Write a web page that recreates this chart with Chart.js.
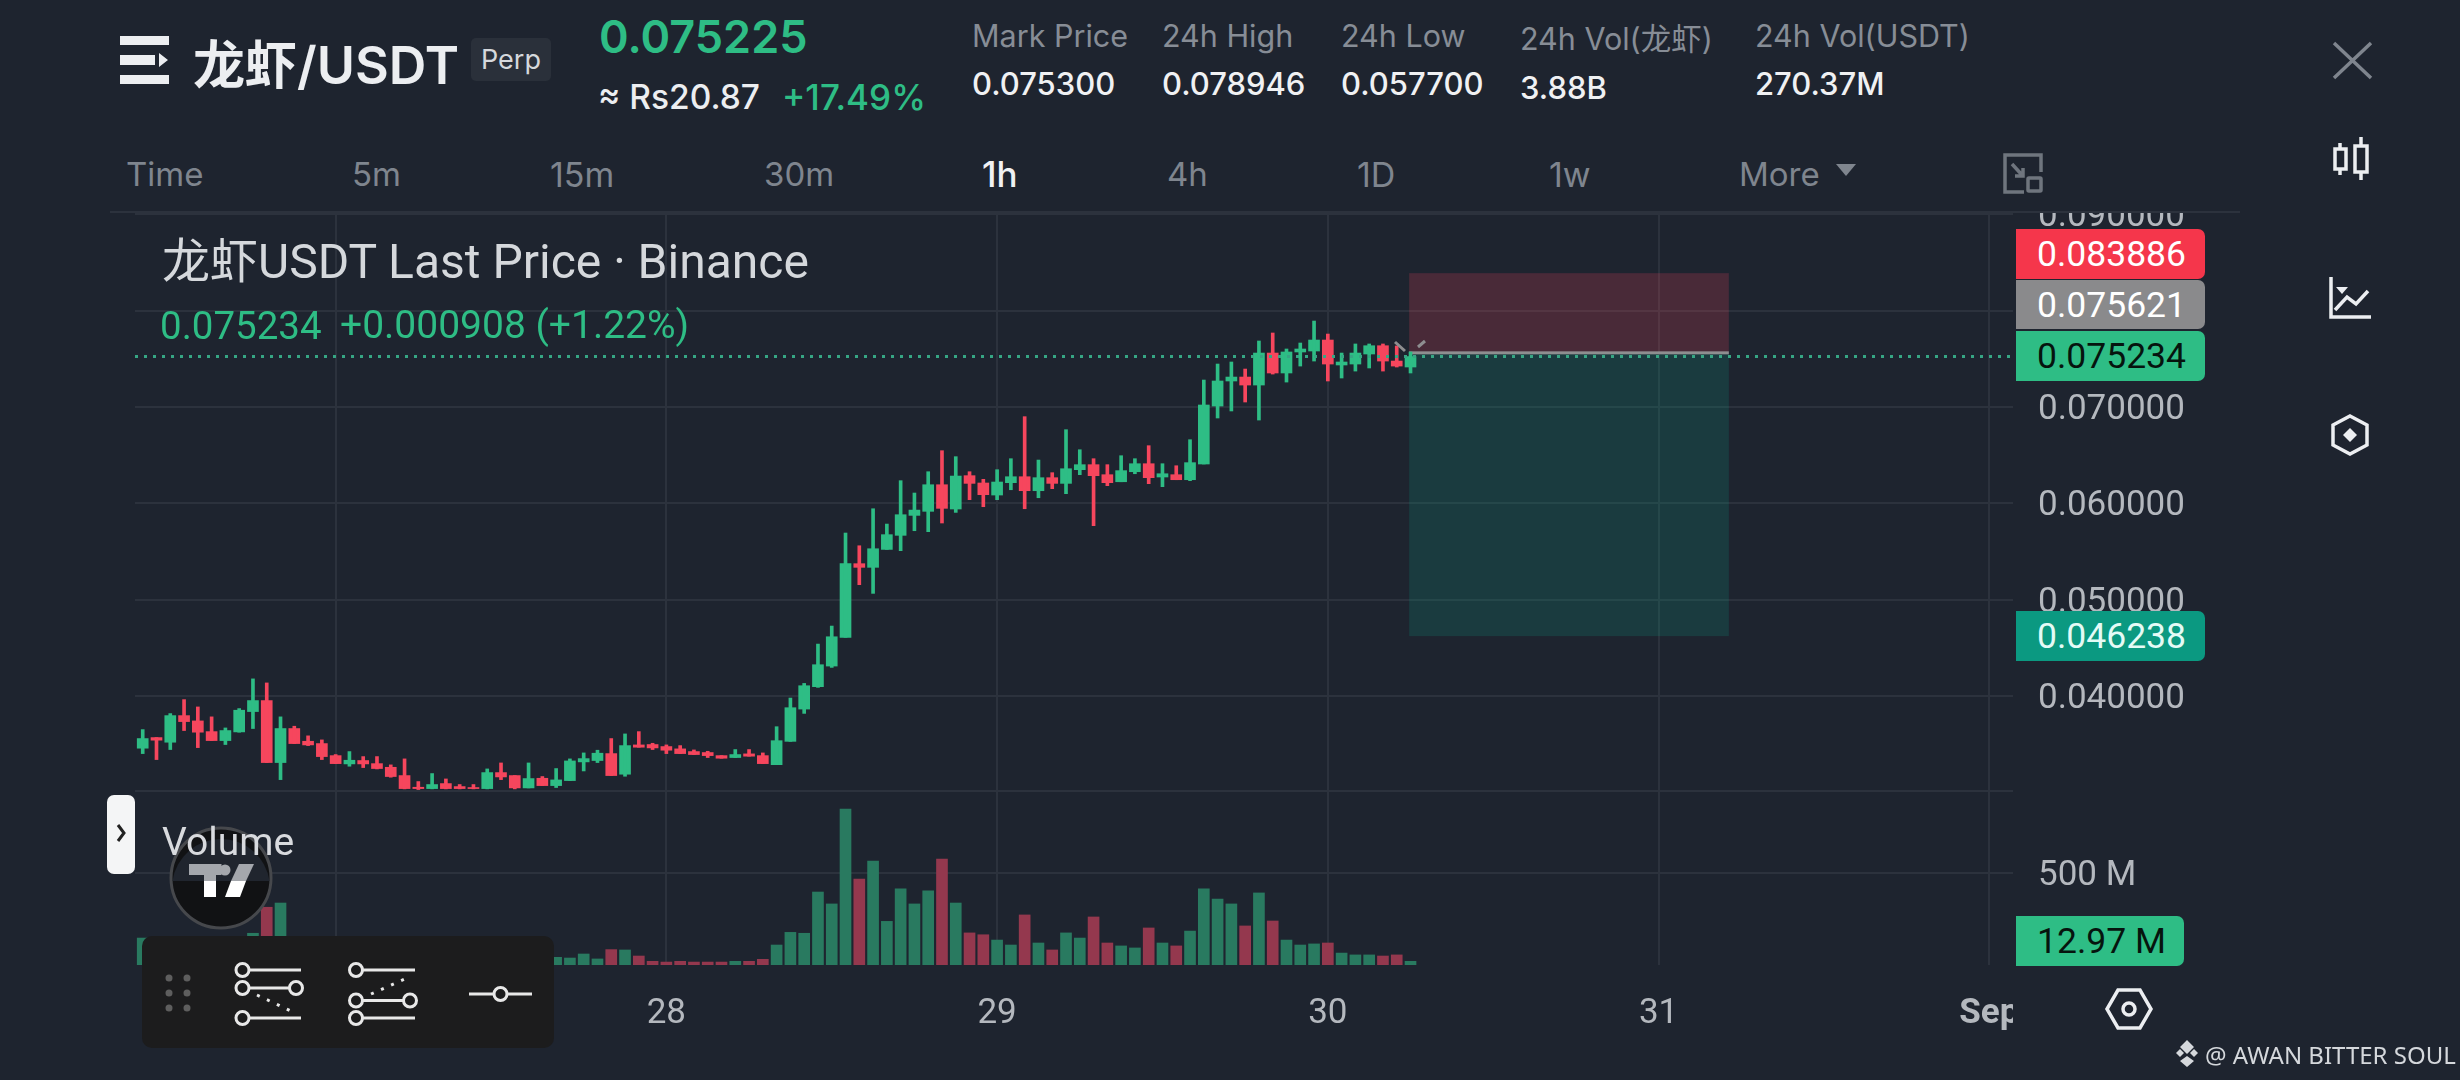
<!DOCTYPE html>
<html>
<head>
<meta charset="utf-8">
<title>龙虾/USDT</title>
<script src="https://cdn.jsdelivr.net/npm/chart.js@4"></script>
<style>
html, body { margin: 0; padding: 0; background: #1e242f; width: 2460px; height: 1080px; overflow: hidden; }
canvas { position: absolute; left: 0; }
.t { position: absolute; white-space: nowrap; transform: translateY(-50%); font-family: Inter, "Noto Sans CJK SC", sans-serif; }
.r { font-family: Roboto, "Noto Sans CJK SC", sans-serif; }
.grey { color: #7f858e; }
.stat { font-size: 30.5px; color: #878d96; }
.val { font-size: 31px; color: #f0f1f3; font-weight: 500; }
.tf { font-size: 33px; color: #7f858e; top: 174px; }
.badge { position: absolute; left: 2016px; width: 189px; height: 50px; line-height: 51px; border-radius: 0 7px 7px 0; font-family: Roboto; font-size: 35.5px; text-indent: 21px; }
.line { position: absolute; background: #2c323d; height: 2px; }
svg { position: absolute; left: 0; top: 0; }
</style>
</head>
<body>
<canvas id="price-chart" width="2460" height="579" style="top:212px"></canvas>
<canvas id="volume-chart" width="2460" height="289" style="top:791px"></canvas>

<div class="line" style="left:110px;top:211px;width:2130px"></div>
<div class="line" style="left:135px;top:790px;width:1878px"></div>
<div style="position:absolute;left:2013px;top:985px;width:50px;height:50px;background:#1e242f"></div>

<!-- header -->
<div class="t" style="left:193px;top:61px;font-size:52px;font-weight:600;color:#eceef1">龙虾/USDT</div>
<div style="position:absolute;left:471px;top:38px;width:80px;height:43px;line-height:44px;text-align:center;background:#2a303a;border-radius:5px;font:27px/44px Inter;color:#d5d8dc">Perp</div>
<div class="t" style="left:599px;top:36px;font-size:45px;font-weight:600;color:#2ebd85">0.075225</div>
<div class="t" style="left:598px;top:97px;font-size:33.5px;font-weight:500;color:#eceef1">≈ Rs20.87</div>
<div class="t" style="left:782px;top:97px;font-size:35px;font-weight:500;color:#2ebd85">+17.49%</div>

<div class="t stat" style="left:972px;top:35px">Mark Price</div>
<div class="t val" style="left:972px;top:83px">0.075300</div>
<div class="t stat" style="left:1162px;top:35px">24h High</div>
<div class="t val" style="left:1162px;top:83px">0.078946</div>
<div class="t stat" style="left:1341px;top:35px">24h Low</div>
<div class="t val" style="left:1341px;top:83px">0.057700</div>
<div class="t stat" style="left:1520px;top:37px">24h Vol(龙虾)</div>
<div class="t val" style="left:1520px;top:87px">3.88B</div>
<div class="t stat" style="left:1755px;top:35px">24h Vol(USDT)</div>
<div class="t val" style="left:1755px;top:83px">270.37M</div>

<div class="t tf" style="left:126px">Time</div>
<div class="t tf" style="left:352px">5m</div>
<div class="t tf" style="left:550px;font-size:34px">15m</div>
<div class="t tf" style="left:764px">30m</div>
<div class="t tf" style="left:982px;font-size:35px;color:#f0f1f3;font-weight:500">1h</div>
<div class="t tf" style="left:1167px">4h</div>
<div class="t tf" style="left:1357px;font-size:34px">1D</div>
<div class="t tf" style="left:1549px;font-size:34px">1w</div>
<div class="t tf" style="left:1739px">More</div>

<!-- legend -->
<div class="t r" style="left:162px;top:257px;font-size:48px;color:#d5d8dc">龙虾USDT Last Price · Binance</div>
<div class="t r" style="left:160px;top:325px;font-size:38.5px;color:#2ebd85">0.075234</div>
<div class="t r" style="left:340px;top:325px;font-size:39px;color:#2ebd85">+0.000908 (+1.22%)</div>

<!-- price labels -->
<div class="badge" style="top:229px;background:#f5364b;color:#fff">0.083886</div>
<div class="badge" style="top:280px;height:49px;background:#8a8a8c;color:#fff">0.075621</div>
<div class="badge" style="top:331px;background:#2ebd85;color:#06140e">0.075234</div>
<div class="badge" style="top:611px;background:#0b9981;color:#e4fbf6">0.046238</div>
<div class="badge" style="top:916px;width:168px;background:#2ebd85;color:#06140e">12.97 M</div>

<!-- overlays -->
<svg width="2460" height="1080">
  <path d="M1395 342L1405 351M1418 347L1425 341" stroke="#8e8e90" stroke-width="3" fill="none"/>
  <!-- menu icon -->
  <path d="M120 36H169V45H120ZM120 55H155V65H120ZM120 75H169V84H120ZM159 53L168 60L159 67Z" fill="#eceef1"/>
  <path d="M1836 164H1856L1846 176Z" fill="#7f858e"/>
  <!-- layout icon -->
  <g fill="none" stroke="#6f757e" stroke-width="3.5">
    <path d="M2024 192H2005V155H2041V172M2012 164L2023 176M2023 168V176H2015"/>
    <rect x="2028" y="178" width="13" height="13" rx="1"/>
  </g>
  <!-- close -->
  <path d="M2334 43L2371 78M2371 43L2334 78" stroke="#7f858e" stroke-width="3.5"/>
  <!-- side icons -->
  <g fill="none" stroke="#eceef1" stroke-width="3.5">
    <rect x="2335" y="149" width="11" height="20"/><path d="M2340 143V149M2340 169V175"/>
    <rect x="2355" y="146" width="12" height="26"/><path d="M2361 137V146M2361 172V180"/>
    <path d="M2331 277V317H2371M2335 310L2347 297L2356 304L2368 291"/>
    <path d="M2350 416L2367 425V445L2350 454L2333 445V425Z"/>
    <path d="M2128 990H2118L2107 1009L2118 1028H2140L2151 1009L2140 990Z"/>
    <circle cx="2129" cy="1009" r="6"/>
  </g>
  <path d="M2336 287H2348L2342 294Z" fill="#eceef1"/>
  <path d="M2350 428L2357 435L2350 442L2343 435Z" fill="#eceef1"/>
  <!-- watermark logo -->
  <path d="M2187 1040L2194 1047L2187 1054L2180 1047ZM2176 1053L2180 1049L2184 1053L2180 1057ZM2198 1053L2194 1049L2190 1053L2194 1057ZM2187 1056L2194 1061L2187 1067L2180 1061Z" fill="#d5d8dc"/>
  <!-- side tab -->
  <rect x="107" y="795" width="28" height="79" rx="7" fill="#f4f5f6"/>
  <path d="M118 825L124 833L118 841" stroke="#222" stroke-width="3" fill="none"/>
  <!-- logo -->
  <circle cx="221" cy="878" r="50" fill="#111214" stroke="#46484c" stroke-width="3"/>
  <path d="M172.5 881A49 49 0 0 1 269.5 881Z" fill="#20252e"/>
  <path d="M189 864H221.5V875H216V881H204V875H189Z" fill="#a4a7ac"/>
  <path d="M204 881H216V897H204Z" fill="#fff"/>
  <circle cx="225" cy="870" r="5.5" fill="#a4a7ac"/>
  <path d="M239 864H254L246 881H231Z" fill="#a4a7ac"/>
  <path d="M231 881H246L240 897H225Z" fill="#fff"/>
  <!-- drawing toolbar -->
  <rect x="142" y="936" width="412" height="112" rx="10" fill="#1c1c1d"/>
  <g fill="#5e5e5e">
    <circle cx="169" cy="978" r="3.5"/><circle cx="187" cy="978" r="3.5"/>
    <circle cx="169" cy="993" r="3.5"/><circle cx="187" cy="993" r="3.5"/>
    <circle cx="169" cy="1008" r="3.5"/><circle cx="187" cy="1008" r="3.5"/>
  </g>
  <g fill="none" stroke="#e8e8e8" stroke-width="3">
    <circle cx="242.5" cy="970" r="6.5"/><path d="M249 970H301"/>
    <circle cx="242.5" cy="988" r="6.5"/><circle cx="296" cy="988" r="6.5"/><path d="M249 988H289.5"/>
    <path d="M257 995L295 1013" stroke-dasharray="3 8"/>
    <circle cx="242.5" cy="1018" r="6.5"/><path d="M249 1018H301"/>
    <circle cx="356" cy="970" r="6.5"/><path d="M362.5 970H415"/>
    <path d="M371 994L409 977" stroke-dasharray="3 8"/>
    <circle cx="356" cy="1000.5" r="6.5"/><circle cx="410" cy="1000.5" r="6.5"/><path d="M362.5 1000.5H403.5"/>
    <circle cx="356" cy="1018" r="6.5"/><path d="M362.5 1018H415"/>
    <circle cx="500.5" cy="994" r="6.5"/><path d="M469 994H494M507 994H532"/>
  </g>
</svg>

<div class="t r" style="left:162px;top:842px;font-size:39px;color:#d8dade">Volume</div>
<div class="t" style="left:2205px;top:1054px;font:24px 'Noto Sans';color:#d5d8dc">@ AWAN BITTER SOUL</div>

<script>
// 1h candles, x = hours from the start of the 28th
var hours = [-38, -37, -36, -35, -34, -33, -32, -31, -30, -29, -28, -27, -26, -25, -24, -23, -22, -21, -20, -19, -18, -17, -16, -15, -14, -13, -12, -11, -10, -9, -8, -7, -6, -5, -4, -3, -2, -1,
    0, 1, 2, 3, 4, 5, 6, 7, 8, 9, 10, 11, 12, 13, 14, 15, 16, 17, 18, 19, 20, 21, 22, 23, 24, 25, 26, 27, 28, 29, 30, 31, 32, 33, 34, 35, 36, 37, 38, 39, 40, 41, 42, 43, 44, 45, 46, 47, 48, 49, 50, 51, 52, 53, 54];

var opens = [0.03461, 0.03571, 0.03523, 0.03799, 0.03744, 0.03633, 0.03540, 0.03630, 0.03841, 0.03955, 0.03312, 0.03665, 0.03533, 0.03509, 0.03384, 0.03298, 0.03333, 0.03301, 0.03263, 0.03177, 0.03056, 0.03042, 0.03094, 0.03063, 0.03053, 0.03042, 0.03208, 0.03177, 0.03049, 0.03149, 0.03073, 0.03125, 0.03319, 0.03333, 0.03405, 0.03191, 0.03495, 0.03499,
    0.03478, 0.03454, 0.03426, 0.03416, 0.03384, 0.03364, 0.03402, 0.03384, 0.03290, 0.03532, 0.03867, 0.04099, 0.04313, 0.04611, 0.05375, 0.05337, 0.05523, 0.05669, 0.05876, 0.05918, 0.06194, 0.05942, 0.06288, 0.06212, 0.06087, 0.06215, 0.06277, 0.06132, 0.06267, 0.06208, 0.06350, 0.06402, 0.06298, 0.06225, 0.06329, 0.06412, 0.06274, 0.06298, 0.06246, 0.06409, 0.07010, 0.07270, 0.07311, 0.07228, 0.07560, 0.07353, 0.07571, 0.07581, 0.07695, 0.07436, 0.07446, 0.07550, 0.07636, 0.07477, 0.07415];

var highs = [0.03654, 0.03571, 0.03820, 0.03965, 0.03889, 0.03786, 0.03671, 0.03872, 0.04180, 0.04138, 0.03786, 0.03689, 0.03589, 0.03547, 0.03395, 0.03426, 0.03374, 0.03374, 0.03288, 0.03350, 0.03115, 0.03198, 0.03142, 0.03084, 0.03084, 0.03246, 0.03308, 0.03177, 0.03308, 0.03167, 0.03250, 0.03350, 0.03412, 0.03440, 0.03561, 0.03609, 0.03633, 0.03512,
    0.03495, 0.03488, 0.03443, 0.03429, 0.03384, 0.03447, 0.03447, 0.03412, 0.03684, 0.03981, 0.04133, 0.04541, 0.04728, 0.05693, 0.05561, 0.05945, 0.05786, 0.06236, 0.06108, 0.06329, 0.06547, 0.06485, 0.06329, 0.06250, 0.06350, 0.06464, 0.06900, 0.06450, 0.06319, 0.06765, 0.06557, 0.06464, 0.06402, 0.06495, 0.06464, 0.06599, 0.06412, 0.06391, 0.06661, 0.07280, 0.07446, 0.07467, 0.07394, 0.07685, 0.07768, 0.07602, 0.07664, 0.07892, 0.07757, 0.07560, 0.07654, 0.07654, 0.07654, 0.07633, 0.07571];

var lows = [0.03405, 0.03343, 0.03447, 0.03644, 0.03467, 0.03540, 0.03499, 0.03627, 0.03665, 0.03312, 0.03135, 0.03509, 0.03488, 0.03343, 0.03301, 0.03274, 0.03260, 0.03246, 0.03160, 0.03039, 0.03032, 0.03039, 0.03039, 0.03039, 0.03039, 0.03039, 0.03135, 0.03039, 0.03049, 0.03073, 0.03053, 0.03125, 0.03225, 0.03312, 0.03177, 0.03170, 0.03471, 0.03447,
    0.03405, 0.03405, 0.03395, 0.03364, 0.03357, 0.03364, 0.03378, 0.03301, 0.03290, 0.03532, 0.03822, 0.04092, 0.04299, 0.04611, 0.05157, 0.05067, 0.05523, 0.05510, 0.05717, 0.05707, 0.05797, 0.05907, 0.06039, 0.05966, 0.06039, 0.06142, 0.05945, 0.06059, 0.06153, 0.06101, 0.06298, 0.05769, 0.06184, 0.06225, 0.06308, 0.06205, 0.06174, 0.06246, 0.06236, 0.06409, 0.06886, 0.06959, 0.07052, 0.06865, 0.07342, 0.07259, 0.07425, 0.07477, 0.07270, 0.07301, 0.07373, 0.07405, 0.07373, 0.07415, 0.07353];

var closes = [0.03561, 0.03544, 0.03799, 0.03737, 0.03627, 0.03540, 0.03644, 0.03855, 0.03955, 0.03312, 0.03665, 0.03509, 0.03495, 0.03374, 0.03301, 0.03336, 0.03298, 0.03250, 0.03167, 0.03042, 0.03042, 0.03084, 0.03042, 0.03042, 0.03042, 0.03208, 0.03163, 0.03049, 0.03146, 0.03073, 0.03132, 0.03329, 0.03353, 0.03409, 0.03177, 0.03488, 0.03471, 0.03464,
    0.03440, 0.03405, 0.03395, 0.03384, 0.03357, 0.03395, 0.03378, 0.03301, 0.03539, 0.03881, 0.04109, 0.04327, 0.04617, 0.05375, 0.05337, 0.05530, 0.05676, 0.05883, 0.05931, 0.06194, 0.05949, 0.06284, 0.06208, 0.06091, 0.06222, 0.06277, 0.06132, 0.06267, 0.06208, 0.06360, 0.06402, 0.06288, 0.06215, 0.06340, 0.06412, 0.06267, 0.06308, 0.06246, 0.06423, 0.07021, 0.07270, 0.07311, 0.07228, 0.07560, 0.07353, 0.07571, 0.07602, 0.07695, 0.07446, 0.07467, 0.07560, 0.07636, 0.07477, 0.07425, 0.075234];

// volume in millions
var volumes = [147, 90, 130, 110, 100, 70, 60, 120, 173, 315, 338, 140, 60, 90, 60, 40, 35, 40, 50, 90, 25, 35, 30, 15, 15, 70, 40, 45, 55, 30, 42, 38, 60, 33, 84, 82, 49, 20,
    16, 20, 16, 16, 16, 20, 20, 31, 109, 178, 173, 398, 333, 851, 469, 567, 238, 415, 333, 404, 578, 338, 175, 165, 136, 109, 273, 120, 82, 175, 147, 262, 120, 104, 93, 202, 120, 104, 185, 415, 360, 333, 213, 393, 240, 136, 109, 115, 120, 65, 55, 55, 49, 55, 20];

var dayTicks = [-24, 0, 24, 48, 72, 96];
var dayLabels = ["27", "28", "29", "30", "31", "Sep"];
var priceTicks = [0.04, 0.05, 0.06, 0.07, 0.08, 0.09];
var volumeTicks = [500];

var lastPrice = 0.075234;
// short position tool: stop, entry, target and the hours it spans
var stopPrice = 0.083886;
var entryPrice = 0.075621;
var targetPrice = 0.046238;
var zoneHours = [53.9, 77.1];

var xMin = -38.56;
var xMax = 97.72;
var gridColor = "#2c323d";
var up = "#2ebd85";
var down = "#f6465d";

Chart.defaults.font.family = "Roboto";
Chart.defaults.animation = false;

function isUp(i) { return closes[i] >= opens[i]; }
var candleColors = hours.map(function (h, i) { return isUp(i) ? up : down; });
var volumeColors = hours.map(function (h, i) { return isUp(i) ? "#297a60" : "#94384e"; });

function xScale(showLabels) {
    return {
        type: "linear",
        offset: false,
        min: xMin,
        max: xMax,
        grid: { color: gridColor, lineWidth: 2, drawTicks: false, offset: false },
        border: { display: false },
        afterBuildTicks: function (s) { s.ticks = dayTicks.map(function (v) { return { value: v }; }); },
        afterFit: function (s) {
            s.height = showLabels ? 115 : 0;
            s.paddingLeft = 0;
            s.paddingRight = 0;
        },
        ticks: {
            display: showLabels,
            autoSkip: false,
            maxRotation: 0,
            padding: 28,
            color: "#b4b8be",
            font: function (ctx) { return { size: 35, weight: ctx.tick && ctx.tick.value === 96 ? "bold" : "normal" }; },
            callback: function (v) { return dayLabels[dayTicks.indexOf(v)]; }
        }
    };
}

function yScale(min, max, tickValues, fmt) {
    return {
        position: "right",
        min: min,
        max: max,
        grid: { color: gridColor, lineWidth: 2, drawTicks: false },
        border: { display: false },
        afterBuildTicks: function (s) { s.ticks = tickValues.map(function (v) { return { value: v }; }); },
        afterFit: function (s) {
            s.width = 447;
            // let the labels hang over the pane edge, the top one gets cut like the original
            s.paddingTop = 0;
            s.paddingBottom = 0;
        },
        ticks: { padding: 25, labelOffset: 3, color: "#b4b8be", font: { size: 35 }, callback: fmt }
    };
}

// stop and target boxes of the position tool, behind the candles
var zonePlugin = {
    id: "zones",
    beforeDatasetsDraw: function (chart) {
        var ctx = chart.ctx, x = chart.scales.x, y = chart.scales.y;
        var x0 = x.getPixelForValue(zoneHours[0]), x1 = x.getPixelForValue(zoneHours[1]);
        var yStop = y.getPixelForValue(stopPrice), yEntry = y.getPixelForValue(entryPrice), yTarget = y.getPixelForValue(targetPrice);
        ctx.save();
        ctx.fillStyle = "rgba(246,70,93,0.2)";
        ctx.fillRect(x0, yStop, x1 - x0, yEntry - yStop);
        ctx.fillStyle = "rgba(8,153,129,0.2)";
        ctx.fillRect(x0, yEntry, x1 - x0, yTarget - yEntry);
        ctx.fillStyle = "#8e8e90";
        ctx.fillRect(x0, yEntry - 1.5, x1 - x0, 3);
        ctx.restore();
    }
};

new Chart(document.getElementById("price-chart"), {
    type: "bar",
    plugins: [zonePlugin],
    data: {
        datasets: [
            {
                type: "line",
                order: 0,
                data: [{ x: xMin, y: lastPrice }, { x: xMax, y: lastPrice }],
                borderColor: "#36a684",
                borderWidth: 3,
                borderDash: [3, 6],
                pointRadius: 0
            },
            {
                order: 1,
                grouped: false,
                barThickness: 3,
                data: hours.map(function (h, i) { return { x: h, y: [lows[i], highs[i]] }; }),
                backgroundColor: candleColors
            },
            {
                order: 2,
                grouped: false,
                barThickness: 11,
                data: hours.map(function (h, i) { return { x: h, y: [opens[i], closes[i]] }; }),
                backgroundColor: candleColors
            }
        ]
    },
    options: {
        responsive: false,
        devicePixelRatio: 1,
        layout: { autoPadding: false, padding: { left: 135 } },
        plugins: { legend: { display: false }, tooltip: { enabled: false } },
        scales: {
            x: xScale(false),
            y: yScale(0.03017, 0.09023, priceTicks, function (v) { return v.toFixed(6); })
        }
    }
});

new Chart(document.getElementById("volume-chart"), {
    type: "bar",
    data: {
        datasets: [{
            barThickness: 11,
            data: hours.map(function (h, i) { return { x: h, y: volumes[i] }; }),
            backgroundColor: volumeColors
        }]
    },
    options: {
        responsive: false,
        devicePixelRatio: 1,
        layout: { autoPadding: false, padding: { left: 135 } },
        plugins: { legend: { display: false }, tooltip: { enabled: false } },
        scales: {
            x: xScale(true),
            y: yScale(0, 949, volumeTicks, function (v) { return v + " M"; })
        }
    }
});
</script>
</body>
</html>
